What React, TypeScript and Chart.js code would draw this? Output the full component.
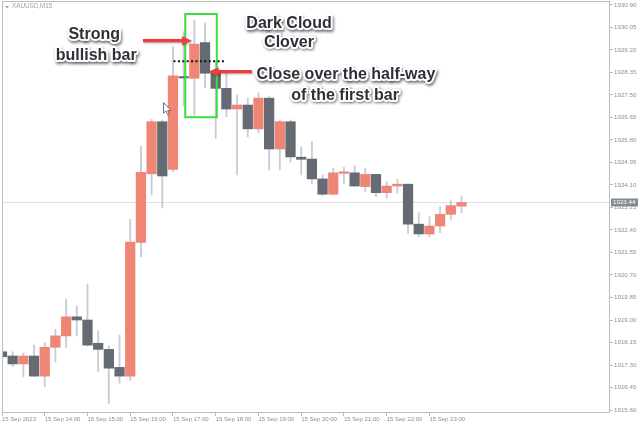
import { useEffect, useRef } from 'react';
import { Chart, registerables } from 'chart.js';

Chart.register(...registerables);

// ---- data (XAUUSD M15, 15 Sep 2023) ----
const candleTimes = [
  '13:00', '13:15', '13:30', '13:45', '14:00', '14:15', '14:30', '14:45',
  '15:00', '15:15', '15:30', '15:45', '16:00', '16:15', '16:30', '16:45',
  '17:00', '17:15', '17:30', '17:45', '18:00', '18:15', '18:30', '18:45',
  '19:00', '19:15', '19:30', '19:45', '20:00', '20:15', '20:30', '20:45',
  '21:00', '21:15', '21:30', '21:45', '22:00', '22:15', '22:30', '22:45',
  '23:00', '23:15', '23:30', '23:45',
];
const opens = [
  1917.80, 1917.64, 1917.34, 1917.64, 1916.88, 1917.97, 1918.40, 1919.12,
  1919.00, 1918.12, 1917.89, 1917.21, 1916.88, 1921.93, 1924.52, 1926.49,
  1924.69, 1928.19, 1928.13, 1929.48, 1928.32, 1927.75, 1926.97, 1927.12,
  1926.22, 1927.38, 1925.46, 1926.49, 1925.15, 1925.08, 1924.33, 1923.75,
  1924.54, 1924.56, 1924.04, 1924.50, 1923.81, 1924.06, 1924.13, 1922.62,
  1922.25, 1922.55, 1922.99, 1923.30,
];
const highs = [
  1917.99, 1917.80, 1917.75, 1918.05, 1918.14, 1918.65, 1919.79, 1919.53,
  1920.36, 1918.60, 1918.02, 1918.43, 1922.80, 1925.57, 1926.58, 1926.56,
  1929.32, 1929.89, 1930.33, 1930.23, 1928.76, 1928.38, 1927.50, 1927.38,
  1927.58, 1927.44, 1926.56, 1926.56, 1925.55, 1925.74, 1924.48, 1924.73,
  1924.77, 1924.82, 1924.73, 1924.51, 1924.22, 1924.32, 1924.14, 1923.05,
  1922.90, 1923.28, 1923.51, 1923.68,
];
const lows = [
  1917.36, 1917.24, 1916.85, 1916.86, 1916.48, 1917.42, 1917.97, 1918.40,
  1918.02, 1917.05, 1915.85, 1916.61, 1916.71, 1921.39, 1923.72, 1923.23,
  1924.60, 1927.08, 1926.74, 1927.79, 1925.86, 1926.68, 1924.48, 1925.92,
  1926.06, 1924.67, 1924.67, 1924.97, 1924.48, 1924.16, 1923.70, 1923.72,
  1924.16, 1924.04, 1923.85, 1923.66, 1923.60, 1923.79, 1922.28, 1922.15,
  1922.15, 1922.30, 1922.78, 1923.05,
];
const closes = [
  1917.61, 1917.34, 1917.64, 1916.88, 1917.97, 1918.40, 1919.12, 1919.00,
  1918.05, 1917.89, 1917.18, 1916.88, 1921.94, 1924.58, 1926.49, 1924.44,
  1928.22, 1928.14, 1929.42, 1928.32, 1927.75, 1926.97, 1927.12, 1926.22,
  1927.38, 1925.46, 1926.49, 1925.16, 1925.07, 1924.33, 1923.75, 1924.56,
  1924.58, 1924.06, 1924.50, 1923.81, 1924.06, 1924.13, 1922.62, 1922.25,
  1922.55, 1922.99, 1923.32, 1923.44,
];
const yTicks = [
  1915.60, 1916.45, 1917.30, 1918.15, 1919.00, 1919.85, 1920.70, 1921.55,
  1922.40, 1923.25, 1924.10, 1924.95, 1925.80, 1926.65, 1927.50, 1928.35,
  1929.20, 1930.05, 1930.90,
];
const xTickIndex = [0, 4, 8, 12, 16, 20, 24, 28, 32, 36, 40];
const xTickLabels = [
  '15 Sep 2023', '15 Sep 14:00', '15 Sep 15:00', '15 Sep 16:00', '15 Sep 17:00',
  '15 Sep 18:00', '15 Sep 19:00', '15 Sep 20:00', '15 Sep 21:00', '15 Sep 22:00',
  '15 Sep 23:00',
];
const currentPrice = 1923.44;
const symbolTitle = 'XAUUSD,M15';
const patternFirstBar = 18; // strong bullish bar index

// ---- styles ----
const UP = '#ef8575';
const DOWN = '#646b73';
const WICK = '#c8ccd8';
const AXIS = '#b9bcc2';
const LABEL = '#8e8e8e';
const TICKFONT = '"Liberation Sans", Arial, sans-serif';

const annotationPlugin = {
  id: 'annotations',
  beforeDatasetsDraw(chart: any) {
    const { ctx, chartArea, scales } = chart;
    const py = Math.round(scales.y.getPixelForValue(currentPrice)) + 0.5;
    ctx.save();
    ctx.strokeStyle = '#dde0e8';
    ctx.lineWidth = 1;
    ctx.beginPath();
    ctx.moveTo(chartArea.left, py);
    ctx.lineTo(chartArea.right, py);
    ctx.stroke();
    ctx.restore();
  },
  afterDraw(chart: any) {
    const { ctx, chartArea, scales } = chart;
    const X = (v: number) => scales.x.getPixelForValue(v);
    const Y = (v: number) => scales.y.getPixelForValue(v);

    // frame
    ctx.save();
    ctx.strokeStyle = AXIS;
    ctx.lineWidth = 1;
    ctx.strokeRect(
      Math.round(chartArea.left) + 0.5,
      Math.round(chartArea.top) + 0.5,
      Math.round(chartArea.right - chartArea.left) - 1,
      Math.round(chartArea.bottom - chartArea.top) - 1
    );
    ctx.restore();

    // title
    ctx.save();
    ctx.fillStyle = '#a4a4a4';
    ctx.beginPath();
    ctx.moveTo(chartArea.left + 3, chartArea.top + 5);
    ctx.lineTo(chartArea.left + 7, chartArea.top + 5);
    ctx.lineTo(chartArea.left + 5, chartArea.top + 7.5);
    ctx.closePath();
    ctx.fill();
    ctx.font = `6.3px ${TICKFONT}`;
    ctx.textBaseline = 'middle';
    ctx.textAlign = 'left';
    ctx.fillText(symbolTitle, chartArea.left + 10, chartArea.top + 5.5);
    ctx.restore();

    // current price label
    const py = Y(currentPrice);
    ctx.save();
    ctx.fillStyle = '#858b93';
    ctx.fillRect(chartArea.right + 1, py - 4, 27, 8);
    ctx.fillStyle = '#ffffff';
    ctx.font = `6.2px ${TICKFONT}`;
    ctx.textBaseline = 'middle';
    ctx.textAlign = 'left';
    ctx.fillText(currentPrice.toFixed(2), chartArea.right + 3, py + 0.3);
    ctx.restore();

    // green box around the pattern
    ctx.save();
    ctx.strokeStyle = '#3fdc3f';
    ctx.lineWidth = 2;
    const bx1 = X(17.15), bx2 = X(20.1), by1 = Y(1930.56), by2 = Y(1926.66);
    ctx.strokeRect(bx1, by1, bx2 - bx1, by2 - by1);
    ctx.restore();

    // dotted midpoint line of first bar
    const mid = (opens[patternFirstBar] + closes[patternFirstBar]) / 2;
    ctx.save();
    ctx.strokeStyle = '#111111';
    ctx.lineWidth = 2;
    ctx.setLineDash([2, 2.4]);
    ctx.beginPath();
    ctx.moveTo(X(16.05), Y(mid));
    ctx.lineTo(X(20.8), Y(mid));
    ctx.stroke();
    ctx.restore();

    // arrows
    const arrow = (xFrom: number, xTo: number, yv: number) => {
      const x1 = X(xFrom), x2 = X(xTo), yy = Y(yv);
      const dir = Math.sign(x2 - x1);
      const hl = 10, hh = 4.5, sh = 1.6;
      const xb = x2 - dir * hl;
      ctx.save();
      ctx.shadowColor = 'rgba(0,0,0,0.3)';
      ctx.shadowBlur = 2;
      ctx.shadowOffsetX = 1;
      ctx.shadowOffsetY = 1;
      ctx.fillStyle = '#ef3d3d';
      ctx.beginPath();
      ctx.moveTo(x1, yy - sh);
      ctx.lineTo(xb, yy - sh);
      ctx.lineTo(xb, yy - hh);
      ctx.lineTo(x2, yy);
      ctx.lineTo(xb, yy + hh);
      ctx.lineTo(xb, yy + sh);
      ctx.lineTo(x1, yy + sh);
      ctx.closePath();
      ctx.fill();
      ctx.restore();
    };
    arrow(13.19, 17.77, 1929.55);
    arrow(23.39, 19.33, 1928.38);

    // labels with halo
    const halo = (text: string, xv: number, yv: number) => {
      const px = X(xv), pyy = Y(yv);
      ctx.save();
      ctx.font = `bold 16px "Liberation Sans", Arial, sans-serif`;
      ctx.textAlign = 'center';
      ctx.textBaseline = 'middle';
      ctx.lineJoin = 'round';
      ctx.shadowColor = 'rgba(0,0,0,0.55)';
      ctx.shadowBlur = 3;
      ctx.shadowOffsetX = 1;
      ctx.shadowOffsetY = 1.5;
      ctx.strokeStyle = '#ffffff';
      ctx.lineWidth = 4;
      ctx.strokeText(text, px, pyy);
      ctx.shadowColor = 'transparent';
      ctx.fillStyle = '#2c3139';
      ctx.fillText(text, px, pyy);
      ctx.restore();
    };
    halo('Strong', 8.63, 1929.77);
    halo('bullish bar', 8.82, 1928.97);
    halo('Dark Cloud', 26.86, 1930.19);
    halo('Clover', 26.86, 1929.48);
    halo('Close over the half-way', 32.19, 1928.26);
    halo('of the first bar', 32.11, 1927.48);

    // mouse cursor
    const cx = X(15.12), cy = Y(1927.21);
    ctx.save();
    ctx.translate(cx, cy);
    ctx.beginPath();
    ctx.moveTo(0, 0);
    ctx.lineTo(0, 10.5);
    ctx.lineTo(2.4, 8.3);
    ctx.lineTo(4.2, 12.2);
    ctx.lineTo(5.8, 11.5);
    ctx.lineTo(4.1, 7.8);
    ctx.lineTo(7.4, 7.6);
    ctx.closePath();
    ctx.fillStyle = '#ffffff';
    ctx.fill();
    ctx.strokeStyle = '#5a5e66';
    ctx.lineWidth = 0.9;
    ctx.stroke();
    ctx.restore();
  },
};

export default function App() {
  const ref = useRef<HTMLCanvasElement>(null);

  useEffect(() => {
    document.body.style.margin = '0';
    const canvas = ref.current;
    if (!canvas) return;

    const bodyColors = opens.map((o, i) => (closes[i] >= o ? UP : DOWN));

    const chart = new Chart(canvas, {
      type: 'bar',
      data: {
        datasets: [
          {
            label: 'wicks',
            data: candleTimes.map((_, i) => ({ x: i, y: [lows[i], highs[i]] })) as any,
            backgroundColor: WICK,
            barThickness: 1.2,
            grouped: false,
            order: 2,
            clip: 0,
          } as any,
          {
            label: 'bodies',
            data: candleTimes.map((_, i) => ({ x: i, y: [opens[i], closes[i]] })) as any,
            backgroundColor: bodyColors,
            barThickness: 9.6,
            minBarLength: 1.5,
            grouped: false,
            order: 1,
            clip: 0,
          } as any,
        ],
      },
      options: {
        responsive: false,
        animation: false,
        layout: { padding: { left: 2, top: 1, right: 0, bottom: 0 } },
        plugins: {
          legend: { display: false },
          tooltip: { enabled: false },
        },
        scales: {
          x: {
            type: 'linear',
            min: 0,
            max: 56.9,
            offset: false,
            afterBuildTicks: (s: any) => {
              s.ticks = xTickIndex.map((v) => ({ value: v }));
            },
            afterFit: (s: any) => {
              s.height = 14;
              s.paddingLeft = 0;
              s.paddingRight = 0;
            },
            ticks: {
              callback: (_v: any, i: number) => xTickLabels[i],
              autoSkip: false,
              maxRotation: 0,
              minRotation: 0,
              align: 'start',
              padding: 0,
              color: LABEL,
              font: { family: TICKFONT, size: 6 },
            },
            grid: { offset: false, drawOnChartArea: false, drawTicks: true, tickLength: 3, color: AXIS },
            border: { display: false },
          },
          y: {
            type: 'linear',
            position: 'right',
            min: 1915.487,
            max: 1931.05,
            afterBuildTicks: (s: any) => {
              s.ticks = yTicks.map((v) => ({ value: v }));
            },
            afterFit: (s: any) => {
              s.width = 30;
              s.paddingTop = 0;
              s.paddingBottom = 0;
            },
            ticks: {
              callback: (v: any) => Number(v).toFixed(2),
              autoSkip: false,
              padding: 1,
              color: LABEL,
              font: { family: TICKFONT, size: 6.2 },
            },
            grid: { drawOnChartArea: false, drawTicks: true, tickLength: 3, color: AXIS },
            border: { display: false },
          },
        },
      } as any,
      plugins: [annotationPlugin],
    });

    return () => chart.destroy();
  }, []);

  return (
    <div style={{ width: 640, height: 427, background: '#ffffff' }}>
      <canvas ref={ref} width={640} height={427} style={{ display: 'block' }} />
    </div>
  );
}
